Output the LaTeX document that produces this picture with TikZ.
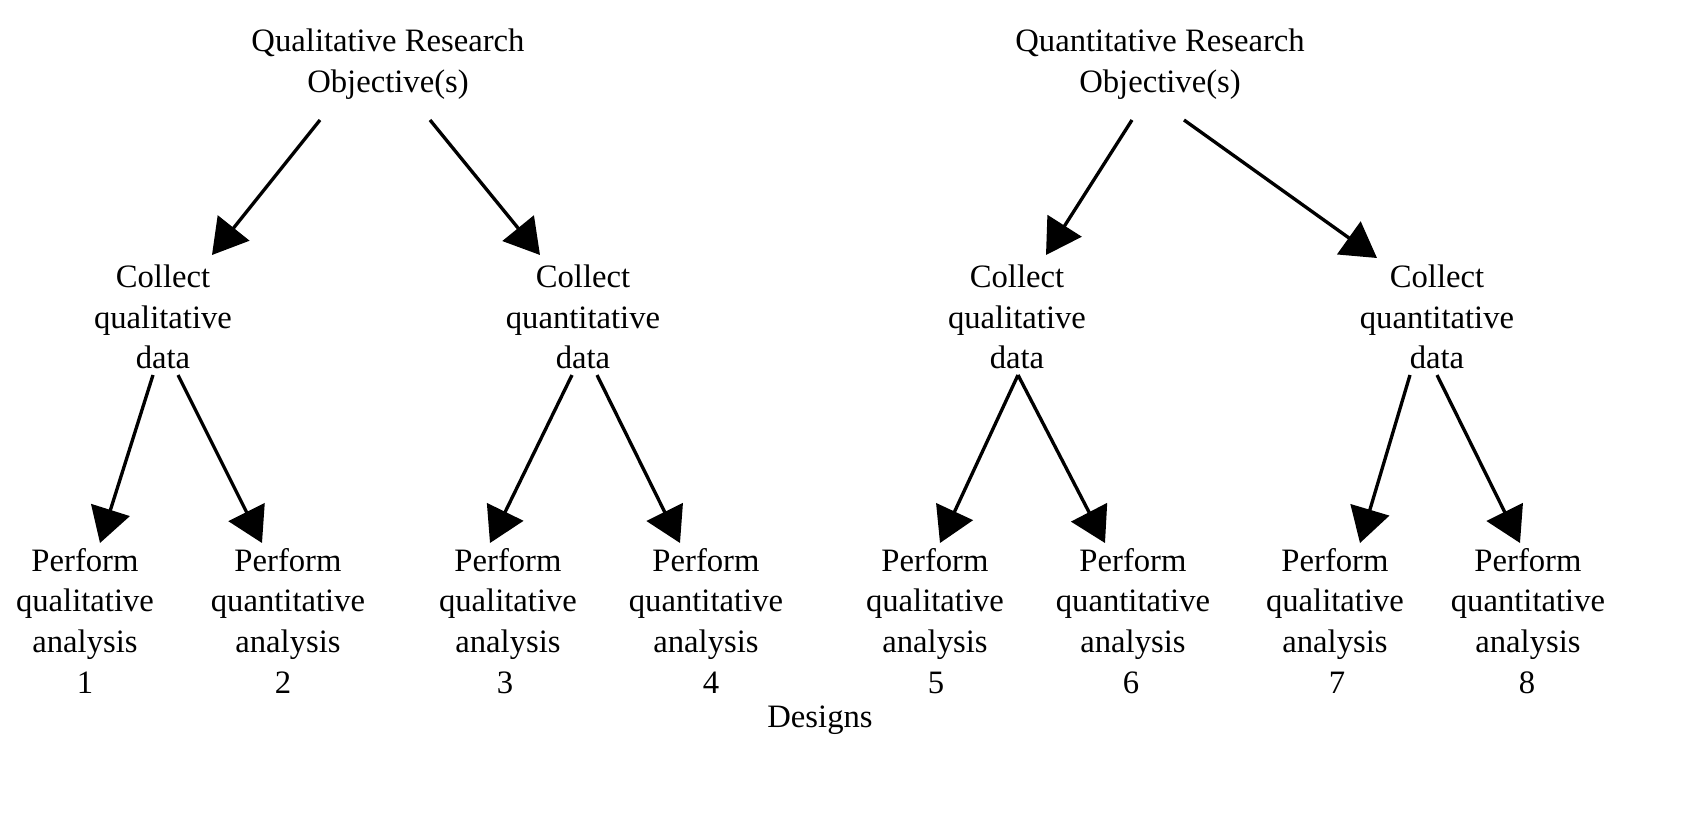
\documentclass[tikz,border=0pt]{standalone}
\usepackage{fontspec}
\setmainfont{Liberation Serif}
\usetikzlibrary{arrows.meta}
\begin{document}
\begin{tikzpicture}[x=0.75pt,y=-0.75pt,
  lbl/.style={align=center,font=\fontsize{24.5}{30.5}\selectfont,inner sep=0pt},
  arr/.style={line width=2.5pt,-{Triangle[length=26pt,width=30pt]}}]
\useasboundingbox (0,0) rectangle (1682,833);
\node[lbl] (o1) at (388,64) {Qualitative Research\\Objective(s)};
\node[lbl] (o2) at (1160,64) {Quantitative Research\\Objective(s)};
\node[lbl] (c1) at (163,317) {Collect\\qualitative\\data};
\node[lbl] (c2) at (583,317) {Collect\\quantitative\\data};
\node[lbl] (c3) at (1017,317) {Collect\\qualitative\\data};
\node[lbl] (c4) at (1437,317) {Collect\\quantitative\\data};
\foreach \n/\x/\t in {1/85/qualitative,2/288/quantitative,3/508/qualitative,4/706/quantitative,5/935/qualitative,6/1133/quantitative,7/1335/qualitative,8/1528/quantitative}{
  \node[lbl] (p\n) at (\x,604) {Perform\\\t\\analysis};
}
\foreach \n/\x in {1/85,2/283,3/505,4/711,5/936,6/1131,7/1337,8/1527}
  \node[lbl] (d\n) at (\x,683) {\n};
\node[lbl] (ds) at (820,720) {Designs};
\coordinate (a1) at (320,120); \coordinate (b1) at (212,255);
\coordinate (a2) at (430,120); \coordinate (b2) at (540,255);
\coordinate (a3) at (1132,120); \coordinate (b3) at (1046,255);
\coordinate (a4) at (1184,120); \coordinate (b4) at (1377,258);
\draw[arr] (a1) -- (b1);
\draw[arr] (a2) -- (b2);
\draw[arr] (a3) -- (b3);
\draw[arr] (a4) -- (b4);
\foreach \sx/\ex in {153/100,178/262,572/490,597/680,1018/940,1018/1105,1410/1360,1437/1520}{
  \draw[arr] (\sx,375) -- (\ex,543);
}
\end{tikzpicture}
\end{document}
